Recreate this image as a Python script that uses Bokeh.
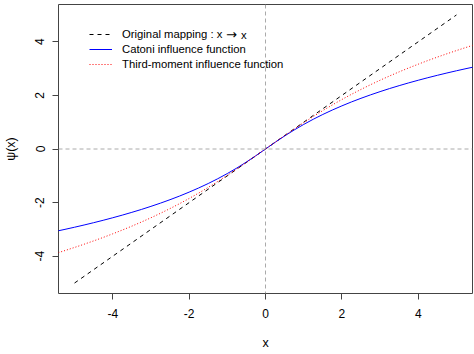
from bokeh.plotting import figure
from bokeh.models import Span, Legend, LegendItem, Range1d, FixedTicker, Label
from bokeh.embed import file_html
from bokeh.resources import INLINE

# identity mapping x -> x
id_x = [-5, 5]
id_y = [-5, 5]

xs = [-5.5, -5.25, -5, -4.75, -4.5, -4.25, -4, -3.75, -3.5, -3.25, -3, -2.75, -2.5, -2.25,
      -2, -1.75, -1.5, -1.25, -1, -0.75, -0.5, -0.25, 0, 0.25, 0.5, 0.75, 1, 1.25, 1.5,
      1.75, 2, 2.25, 2.5, 2.75, 3, 3.25, 3.5, 3.75, 4, 4.25, 4.5, 4.75, 5, 5.25, 5.5]

catoni = [-3.074, -2.997, -2.918, -2.835, -2.749, -2.659, -2.565, -2.467, -2.363, -2.255,
          -2.140, -2.019, -1.891, -1.755, -1.609, -1.454, -1.288, -1.109, -0.916, -0.709,
          -0.486, -0.248, 0.0, 0.248, 0.486, 0.709, 0.916, 1.109, 1.288, 1.454, 1.609,
          1.755, 1.891, 2.019, 2.140, 2.255, 2.363, 2.467, 2.565, 2.659, 2.749, 2.835,
          2.918, 2.997, 3.074]

third = [-3.899, -3.788, -3.672, -3.552, -3.428, -3.299, -3.164, -3.024, -2.878, -2.725,
         -2.565, -2.398, -2.222, -2.039, -1.846, -1.644, -1.432, -1.211, -0.981, -0.743,
         -0.498, -0.250, 0.0, 0.250, 0.498, 0.743, 0.981, 1.211, 1.432, 1.644, 1.846,
         2.039, 2.222, 2.398, 2.565, 2.725, 2.878, 3.024, 3.164, 3.299, 3.428, 3.552,
         3.672, 3.788, 3.899]

x_ticks = [-4, -2, 0, 2, 4]
y_ticks = [-4, -2, 0, 2, 4]
tick_text = {-4: "-4", -2: "-2", 0: "0", 2: "2", 4: "4"}
labels = ["Original mapping : x", "Catoni influence function",
          "Third-moment influence function"]
arrow_text = "\u2192"
arrow_target = "x"
x_title = "x"
y_title = "\u03c8(x)"

FONT = "Liberation Sans"

XR = (-5.42, 5.42)
YR = (-5.39, 5.39)
FL, FR, FT, FB = 58, 472, 4, 293  # frame edges in pixels


def px_to_x(px):
    return XR[0] + (px - FL) * (XR[1] - XR[0]) / (FR - FL)


def py_to_y(py):
    return YR[1] - (py - FT) * (YR[1] - YR[0]) / (FB - FT)


p = figure(width=474, height=354, output_backend="svg", toolbar_location=None,
           x_range=Range1d(*XR), y_range=Range1d(*YR),
           min_border_left=FL, min_border_right=474 - FR, min_border_top=FT,
           min_border_bottom=354 - FB)
p.background_fill_color = "white"
p.border_fill_color = "white"
p.outline_line_color = "#444444"
p.outline_line_width = 1
p.xgrid.visible = False
p.ygrid.visible = False

for ax in (p.xaxis[0], p.yaxis[0]):
    ax.axis_line_color = None
    ax.major_tick_line_color = "#444444"
    ax.major_tick_out = 6
    ax.major_tick_in = 0
    ax.minor_tick_line_color = None
    ax.major_label_text_font = FONT
    ax.major_label_text_font_size = "12px"
    ax.major_label_text_color = "black"
    ax.axis_label_text_font = FONT
    ax.axis_label_text_font_size = "12.5px"
    ax.axis_label_text_font_style = "normal"
    ax.axis_label_text_color = "black"
    ax.major_label_overrides = tick_text

p.xaxis.ticker = FixedTicker(ticks=x_ticks)
p.yaxis.ticker = FixedTicker(ticks=y_ticks)
p.xaxis.axis_label = x_title
p.xaxis.major_label_standoff = 9
p.xaxis.axis_label_standoff = 15
p.yaxis.axis_label = y_title
p.yaxis.major_label_orientation = "vertical"
p.yaxis.major_label_standoff = 8
p.yaxis.axis_label_standoff = 15

p.add_layout(Span(location=0, dimension="width", line_color="#aaaaaa", line_dash="4 3", line_width=1))
p.add_layout(Span(location=0, dimension="height", line_color="#aaaaaa", line_dash="4 3", line_width=1))

r1 = p.line(id_x, id_y, line_color="black", line_dash="4 4", line_width=1)
r2 = p.line(xs, catoni, line_color="blue", line_width=1)
r3 = p.line(xs, third, line_color="red", line_dash="1 2", line_width=1)

legend = Legend(items=[LegendItem(label=labels[0], renderers=[r1]),
                       LegendItem(label=labels[1], renderers=[r2]),
                       LegendItem(label=labels[2], renderers=[r3])],
                location=(31, 222))
legend.border_line_color = None
legend.background_fill_alpha = 0
legend.padding = 0
legend.margin = 0
legend.spacing = 1
legend.glyph_width = 23
legend.glyph_height = 14
legend.label_height = 14
legend.label_standoff = 10
legend.label_text_font = FONT
legend.label_text_font_size = "11.3px"
legend.label_text_color = "black"
p.add_layout(legend)

# arrow of the first legend entry (plotmath-like symbol arrow)
p.add_layout(Label(x=px_to_x(225.5), y=py_to_y(34), text=arrow_text, text_align="left",
                   text_baseline="middle", text_font="DejaVu Sans", text_font_size="13px",
                   text_color="black"))
p.add_layout(Label(x=px_to_x(240.5), y=py_to_y(34), text=arrow_target, text_align="left",
                   text_baseline="middle", text_font=FONT, text_font_size="11.3px",
                   text_color="black"))

open("out.html", "w").write(file_html(p, INLINE))
